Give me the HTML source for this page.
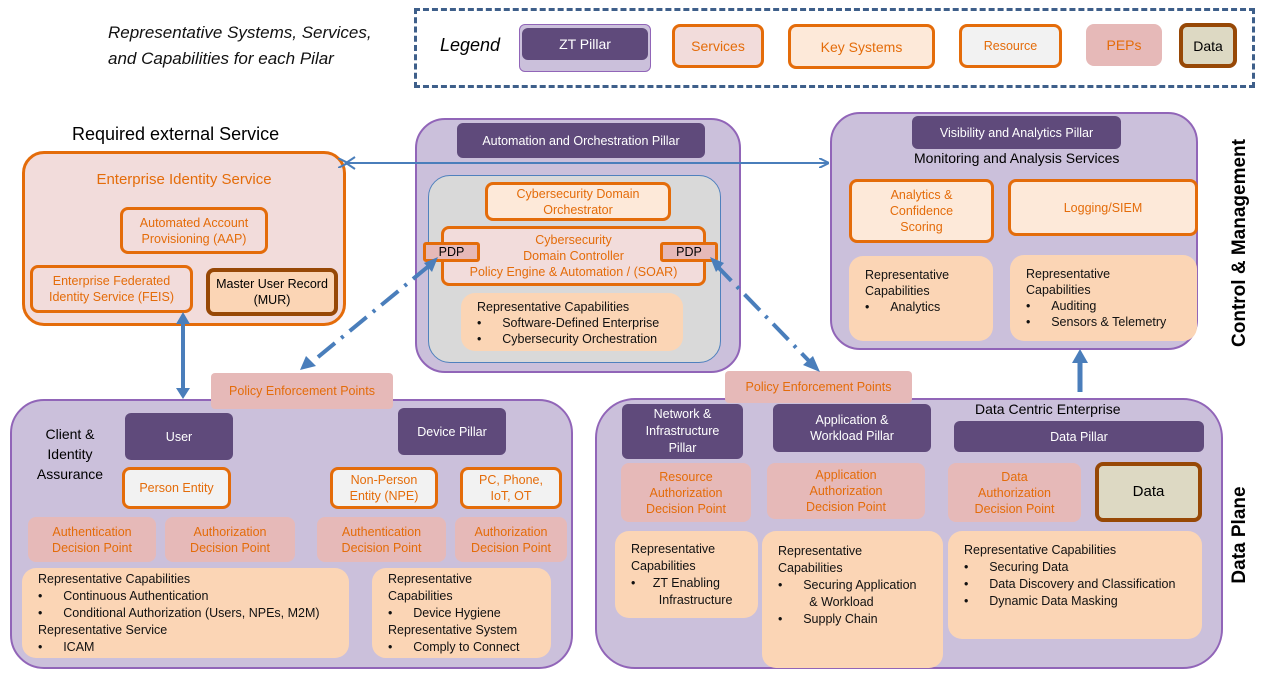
<!DOCTYPE html>
<html><head><meta charset="utf-8"><style>
body{margin:0;width:1264px;height:677px;background:#fff;position:relative;overflow:hidden;font-family:"Liberation Sans",sans-serif;}
.b{position:absolute;box-sizing:border-box;display:flex;align-items:center;justify-content:center;text-align:center;font-size:12.5px;line-height:16px;}
.pu{background:#cbc0db;border:2px solid #9165b8;border-radius:30px;}
.pl{background:#5f4a7b;color:#fff;border-radius:6px;}
.sv{background:#f2dcdb;border:3px solid #e46c0a;color:#e46c0a;border-radius:8px;}
.ks{background:#fde9d9;border:3px solid #e46c0a;color:#e46c0a;border-radius:8px;}
.rs{background:#f2f2f2;border:3px solid #e46c0a;color:#e46c0a;border-radius:8px;}
.pe{background:#e6b9b8;color:#e46c0a;border-radius:8px;}
.dt{background:#ddd9c3;border:4px solid #974806;color:#000;border-radius:8px;}
.cp{background:#fbd5b5;color:#111;border-radius:14px;justify-content:flex-start;align-items:flex-start;text-align:left;padding:6px 0 0 16px;}
.cp ul{margin:0;padding:0 0 0 0;list-style:none}
.t{position:absolute;white-space:nowrap;}
</style></head><body>
<div class="t" style="left:108px;top:20px;font-size:17px;font-style:italic;line-height:26px;color:#111">Representative Systems, Services,<br>and Capabilities for each Pilar</div>
<div class="b" style="left:414px;top:8px;width:841px;height:80px;border:3px dashed #3e5f8a;"></div>
<div class="t" style="left:440px;top:35px;font-size:18px;font-style:italic">Legend</div>
<div class="b" style="left:519px;top:24px;width:132px;height:48px;background:#cbc0db;border:1px solid #9165b8;border-radius:6px;"></div>
<div class="b pl" style="left:522px;top:28px;width:126px;height:32px;font-size:14px">ZT Pillar</div>
<div class="b sv" style="left:672px;top:24px;width:92px;height:44px;font-size:14px">Services</div>
<div class="b ks" style="left:788px;top:24px;width:147px;height:45px;font-size:14px">Key Systems</div>
<div class="b rs" style="left:959px;top:24px;width:103px;height:44px;">Resource</div>
<div class="b pe" style="left:1086px;top:24px;width:76px;height:42px;font-size:14px">PEPs</div>
<div class="b dt" style="left:1179px;top:23px;width:58px;height:45px;font-size:14px">Data</div>

<!-- Enterprise identity -->
<div class="t" style="left:72px;top:124px;font-size:18px">Required external Service</div>
<div class="b sv" style="left:22px;top:151px;width:324px;height:175px;border-radius:22px;align-items:flex-start;padding-top:18px;font-size:15px">Enterprise Identity Service</div>
<div class="b sv" style="left:120px;top:207px;width:148px;height:47px;">Automated Account<br>Provisioning (AAP)</div>
<div class="b sv" style="left:30px;top:265px;width:163px;height:48px;">Enterprise Federated<br>Identity Service (FEIS)</div>
<div class="b dt" style="left:206px;top:268px;width:132px;height:48px;background:#fbd5b5;">Master User Record<br>(MUR)</div>

<!-- Automation -->
<div class="b pu" style="left:415px;top:118px;width:326px;height:255px;"></div>
<div class="b pl" style="left:457px;top:123px;width:248px;height:35px;">Automation and Orchestration Pillar</div>
<div class="b" style="left:428px;top:175px;width:293px;height:188px;background:#d9d9d9;border:1px solid #4f81bd;border-radius:22px;"></div>
<div class="b ks" style="left:485px;top:182px;width:186px;height:39px;">Cybersecurity Domain<br>Orchestrator</div>
<div class="b sv" style="left:441px;top:226px;width:265px;height:60px;">Cybersecurity<br>Domain Controller<br>Policy Engine &amp; Automation / (SOAR)</div>
<div class="b" style="left:423px;top:242px;width:57px;height:20px;background:#e6b9b8;border:3px solid #e46c0a;border-radius:3px;">PDP</div>
<div class="b" style="left:660px;top:242px;width:58px;height:20px;background:#e6b9b8;border:3px solid #e46c0a;border-radius:3px;">PDP</div>
<div class="b cp" style="left:461px;top:293px;width:222px;height:58px;">Representative Capabilities<br>•&nbsp;&nbsp;&nbsp;&nbsp;&nbsp;&nbsp;Software-Defined Enterprise<br>•&nbsp;&nbsp;&nbsp;&nbsp;&nbsp;&nbsp;Cybersecurity Orchestration</div>

<!-- Visibility -->
<div class="b pu" style="left:830px;top:112px;width:368px;height:238px;"></div>
<div class="b pl" style="left:912px;top:116px;width:209px;height:33px;">Visibility and Analytics Pillar</div>
<div class="t" style="left:914px;top:150px;font-size:14px">Monitoring and Analysis Services</div>
<div class="b ks" style="left:849px;top:179px;width:145px;height:64px;">Analytics &amp;<br>Confidence<br>Scoring</div>
<div class="b ks" style="left:1008px;top:179px;width:190px;height:57px;">Logging/SIEM</div>
<div class="b cp" style="left:849px;top:256px;width:144px;height:85px;padding-top:11px">Representative<br>Capabilities<br>•&nbsp;&nbsp;&nbsp;&nbsp;&nbsp;&nbsp;Analytics</div>
<div class="b cp" style="left:1010px;top:255px;width:187px;height:86px;padding-top:11px">Representative<br>Capabilities<br>•&nbsp;&nbsp;&nbsp;&nbsp;&nbsp;&nbsp;Auditing<br>•&nbsp;&nbsp;&nbsp;&nbsp;&nbsp;&nbsp;Sensors &amp; Telemetry</div>

<div class="t" style="left:1240px;top:243px;transform:translate(-50%,-50%) rotate(-90deg);font-size:19px;font-weight:bold">Control &amp; Management</div>
<div class="t" style="left:1240px;top:535px;transform:translate(-50%,-50%) rotate(-90deg);font-size:19px;font-weight:bold">Data Plane</div>

<!-- Bottom left -->
<div class="b pu" style="left:10px;top:399px;width:563px;height:270px;border-radius:34px"></div>
<div class="b pe" style="left:211px;top:373px;width:182px;height:36px;border-radius:4px">Policy Enforcement Points</div>
<div class="t" style="left:70px;top:424px;transform:translateX(-50%);text-align:center;font-size:14px;line-height:20px">Client &amp;<br>Identity<br>Assurance</div>
<div class="b pl" style="left:125px;top:413px;width:108px;height:47px;">User</div>
<div class="b pl" style="left:398px;top:408px;width:108px;height:47px;">Device Pillar</div>
<div class="b rs" style="left:122px;top:467px;width:109px;height:42px;">Person Entity</div>
<div class="b rs" style="left:330px;top:467px;width:108px;height:42px;">Non-Person<br>Entity (NPE)</div>
<div class="b rs" style="left:460px;top:467px;width:102px;height:42px;">PC, Phone,<br>IoT, OT</div>
<div class="b pe" style="left:28px;top:517px;width:128px;height:45px;">Authentication<br>Decision Point</div>
<div class="b pe" style="left:165px;top:517px;width:130px;height:45px;">Authorization<br>Decision Point</div>
<div class="b pe" style="left:317px;top:517px;width:129px;height:45px;">Authentication<br>Decision Point</div>
<div class="b pe" style="left:455px;top:517px;width:112px;height:45px;">Authorization<br>Decision Point</div>
<div class="b cp" style="left:22px;top:568px;width:327px;height:90px;padding-top:3px;line-height:17px">Representative Capabilities<br>•&nbsp;&nbsp;&nbsp;&nbsp;&nbsp;&nbsp;Continuous Authentication<br>•&nbsp;&nbsp;&nbsp;&nbsp;&nbsp;&nbsp;Conditional Authorization (Users, NPEs, M2M)<br>Representative Service<br>•&nbsp;&nbsp;&nbsp;&nbsp;&nbsp;&nbsp;ICAM</div>
<div class="b cp" style="left:372px;top:568px;width:179px;height:90px;padding-top:3px;line-height:17px">Representative<br>Capabilities<br>•&nbsp;&nbsp;&nbsp;&nbsp;&nbsp;&nbsp;Device Hygiene<br>Representative System<br>•&nbsp;&nbsp;&nbsp;&nbsp;&nbsp;&nbsp;Comply to Connect</div>

<!-- Bottom right -->
<div class="b pu" style="left:595px;top:398px;width:628px;height:271px;border-radius:40px"></div>
<div class="b pe" style="left:725px;top:371px;width:187px;height:32px;border-radius:4px">Policy Enforcement Points</div>
<div class="b pl" style="left:622px;top:404px;width:121px;height:55px;line-height:17px">Network &amp;<br>Infrastructure<br>Pillar</div>
<div class="b pl" style="left:773px;top:404px;width:158px;height:48px;">Application &amp;<br>Workload Pillar</div>
<div class="t" style="left:975px;top:401px;font-size:14px">Data Centric Enterprise</div>
<div class="b pl" style="left:954px;top:421px;width:250px;height:31px;">Data Pillar</div>
<div class="b pe" style="left:621px;top:463px;width:130px;height:59px;">Resource<br>Authorization<br>Decision Point</div>
<div class="b pe" style="left:767px;top:463px;width:158px;height:56px;">Application<br>Authorization<br>Decision Point</div>
<div class="b pe" style="left:948px;top:463px;width:133px;height:59px;">Data<br>Authorization<br>Decision Point</div>
<div class="b dt" style="left:1095px;top:462px;width:107px;height:60px;font-size:15px">Data</div>
<div class="b cp" style="left:615px;top:531px;width:143px;height:87px;padding-top:10px;line-height:17px">Representative<br>Capabilities<br>•&nbsp;&nbsp;&nbsp;&nbsp;&nbsp;ZT Enabling<br>&nbsp;&nbsp;&nbsp;&nbsp;&nbsp;&nbsp;&nbsp;&nbsp;Infrastructure</div>
<div class="b cp" style="left:762px;top:531px;width:181px;height:137px;padding-top:12px;line-height:17px">Representative<br>Capabilities<br>•&nbsp;&nbsp;&nbsp;&nbsp;&nbsp;&nbsp;Securing Application<br>&nbsp;&nbsp;&nbsp;&nbsp;&nbsp;&nbsp;&nbsp;&nbsp;&nbsp;&amp; Workload<br>•&nbsp;&nbsp;&nbsp;&nbsp;&nbsp;&nbsp;Supply Chain</div>
<div class="b cp" style="left:948px;top:531px;width:254px;height:108px;padding-top:11px;line-height:17px">Representative Capabilities<br>•&nbsp;&nbsp;&nbsp;&nbsp;&nbsp;&nbsp;Securing Data<br>•&nbsp;&nbsp;&nbsp;&nbsp;&nbsp;&nbsp;Data Discovery and Classification<br>•&nbsp;&nbsp;&nbsp;&nbsp;&nbsp;&nbsp;Dynamic Data Masking</div>

<svg style="position:absolute;left:0;top:0" width="1264" height="677">
<defs>
<marker id="a" markerWidth="10" markerHeight="10" refX="9" refY="5" orient="auto" markerUnits="userSpaceOnUse"><path d="M0,0 L10,5 L0,10" fill="none" stroke="#4a7ebb" stroke-width="2"/></marker>
<marker id="f" markerWidth="8" markerHeight="8" refX="6" refY="4" orient="auto"><path d="M0,0 L8,4 L0,8z" fill="#4a7ebb"/></marker>
</defs>
<line x1="347" y1="163" x2="828" y2="163" stroke="#4a7ebb" stroke-width="2" marker-start="url(#a)" marker-end="url(#a)" style="marker-start:url(#a)"/>
<path d="M355,157 L346,163 L355,169" fill="none" stroke="#4a7ebb" stroke-width="2"/>
<line x1="183" y1="322" x2="183" y2="390" stroke="#4a7ebb" stroke-width="4"/>
<path d="M176,324 L183,312 L190,324z M176,388 L183,399 L190,388z" fill="#4a7ebb"/>
<line x1="1080" y1="392" x2="1080" y2="362" stroke="#4a7ebb" stroke-width="5"/>
<path d="M1072,363 L1080,349 L1088,363z" fill="#4a7ebb"/>
<line x1="430" y1="265" x2="312" y2="362" stroke="#4a7ebb" stroke-width="4" stroke-dasharray="22,8,3,8"/>
<path d="M300,370 L306,356 L316,366z" fill="#4a7ebb"/>
<path d="M438,257 L424,263 L432,272z" fill="#4a7ebb"/>
<line x1="716" y1="265" x2="810" y2="362" stroke="#4a7ebb" stroke-width="4" stroke-dasharray="22,8,3,8"/>
<path d="M820,372 L803,365 L813,356z" fill="#4a7ebb"/>
<path d="M710,257 L724,263 L716,272z" fill="#4a7ebb"/>
</svg>
</body></html>
